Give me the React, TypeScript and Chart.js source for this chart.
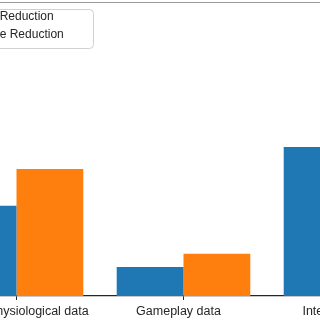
import React, { useEffect, useRef } from "react";
import { Chart, registerables } from "chart.js";

Chart.register(...registerables);

const categories = ["Psychophysiological data", "Gameplay data", "Interaction data"];
const seriesNames = ["After Reduction", "Before Reduction"];
const afterValues = [18.4, 5.9, 30.4];
const beforeValues = [25.9, 8.6, 57.0];
const yMax = 60;
const seriesColors = ["#1f77b4", "#ff7f0e"];
const labelShift = [2, -5, -5];

const CANVAS_W = 560;
const CANVAS_H = 336;
const FONT = "'Liberation Sans', Arial, sans-serif";

const framePlugin = {
  id: "frameAndLegend",
  afterDraw(chart: any) {
    const { ctx, chartArea } = chart;
    ctx.save();
    // top spine
    ctx.strokeStyle = "#999999";
    ctx.lineWidth = 1.2;
    ctx.beginPath();
    ctx.moveTo(chartArea.left, chartArea.top + 0.5);
    ctx.lineTo(chartArea.right, chartArea.top + 0.5);
    ctx.stroke();

    // x tick labels
    const xScale = chart.scales.x;
    ctx.font = `12.5px ${FONT}`;
    ctx.fillStyle = "#262626";
    ctx.textAlign = "center";
    ctx.textBaseline = "middle";
    chart.data.labels.forEach((lab: string, i: number) => {
      const x = xScale.getPixelForTick(i) + (labelShift[i] || 0);
      ctx.fillText(lab, x, chartArea.bottom + 15.5);
    });

    // legend box
    const boxRight = chartArea.left + 160;
    const boxLeft = chartArea.left - 40;
    const boxTop = chartArea.top + 7;
    const boxBottom = chartArea.top + 46;
    const r = 4;
    ctx.beginPath();
    ctx.moveTo(boxLeft + r, boxTop + 0.5);
    ctx.lineTo(boxRight - r, boxTop + 0.5);
    ctx.arcTo(boxRight + 0.5, boxTop + 0.5, boxRight + 0.5, boxTop + r, r);
    ctx.lineTo(boxRight + 0.5, boxBottom - r);
    ctx.arcTo(boxRight + 0.5, boxBottom + 0.5, boxRight - r, boxBottom + 0.5, r);
    ctx.lineTo(boxLeft + r, boxBottom + 0.5);
    ctx.arcTo(boxLeft, boxBottom + 0.5, boxLeft, boxBottom - r, r);
    ctx.lineTo(boxLeft, boxTop + r);
    ctx.arcTo(boxLeft, boxTop + 0.5, boxLeft + r, boxTop + 0.5, r);
    ctx.closePath();
    ctx.fillStyle = "rgba(255,255,255,0.8)";
    ctx.fill();
    ctx.strokeStyle = "#d0d0d0";
    ctx.lineWidth = 1;
    ctx.stroke();

    const textLeft = chartArea.left + 38;
    ctx.font = `12px ${FONT}`;
    ctx.textBaseline = "middle";
    ctx.textAlign = "left";
    chart.data.datasets.forEach((ds: any, i: number) => {
      const cy = chartArea.top + 15 + i * 18;
      ctx.fillStyle = ds.backgroundColor;
      ctx.fillRect(textLeft - 32, cy - 4, 24, 8);
      ctx.fillStyle = "#262626";
      ctx.fillText(ds.label, textLeft, cy);
    });
    ctx.restore();
  },
};

export default function App() {
  const ref = useRef<HTMLCanvasElement | null>(null);

  useEffect(() => {
    if (!ref.current) return;
    const chart = new Chart(ref.current, {
      type: "bar",
      data: {
        labels: categories,
        datasets: [
          {
            label: seriesNames[0],
            data: afterValues,
            backgroundColor: seriesColors[0],
            borderWidth: 0,
          },
          {
            label: seriesNames[1],
            data: beforeValues,
            backgroundColor: seriesColors[1],
            borderWidth: 0,
          },
        ],
      },
      options: {
        responsive: false,
        animation: false,
        devicePixelRatio: 1,
        layout: { padding: { left: 32, right: 27, top: 12, bottom: 0 } },
        datasets: {
          bar: { categoryPercentage: 0.8, barPercentage: 1.0 },
        },
        plugins: {
          legend: { display: false },
          tooltip: { enabled: false },
        },
        scales: {
          x: {
            offset: true,
            grid: {
              offset: false,
              drawOnChartArea: false,
              drawTicks: true,
              tickLength: 4,
              color: "#262626",
              lineWidth: 1,
            },
            border: { display: true, color: "#262626", width: 1.3 },
            ticks: {
              display: false,
            },
            afterFit: (scale: any) => {
              scale.height = 30;
            },
          },
          y: {
            display: false,
            min: 0,
            max: yMax,
          },
        },
      },
      plugins: [framePlugin],
    });
    return () => chart.destroy();
  }, []);

  return (
    <div
      style={{
        position: "fixed",
        left: 0,
        top: 0,
        width: 320,
        height: 320,
        overflow: "hidden",
        background: "#ffffff",
      }}
    >
      <canvas
        ref={ref}
        width={CANVAS_W}
        height={CANVAS_H}
        style={{
          position: "absolute",
          left: -99,
          top: -10,
          width: CANVAS_W,
          height: CANVAS_H,
        }}
      />
    </div>
  );
}
